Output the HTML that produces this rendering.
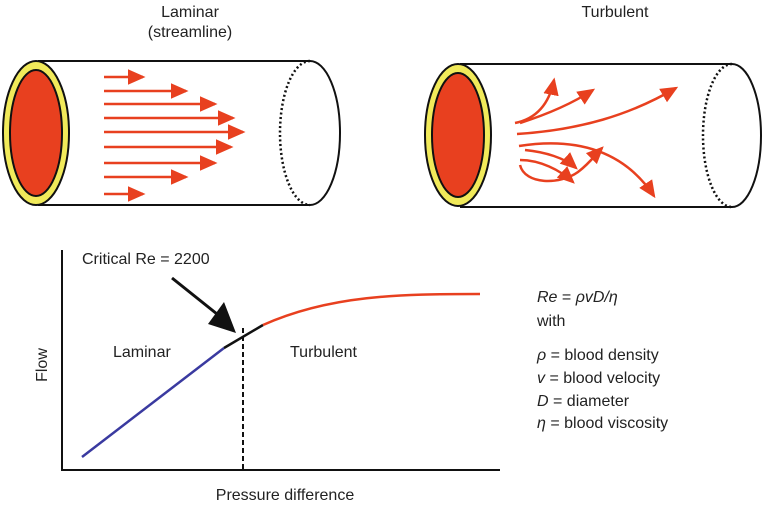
<!DOCTYPE html>
<html><head><meta charset="utf-8"><style>
body{margin:0;background:#fff}
svg{display:block}
text{font-family:"Liberation Sans",sans-serif;font-size:16px;fill:#222}
</style></head><body>
<svg width="768" height="507" viewBox="0 0 768 507">
<defs>
<marker id="ah" markerWidth="7" markerHeight="7" refX="6" refY="3.5" orient="auto" markerUnits="strokeWidth"><path d="M0,0.4 L7,3.5 L0,6.6 Z" fill="#e8401f"/></marker>
</defs>
<text x="190" y="17" text-anchor="middle">Laminar</text>
<text x="190" y="37" text-anchor="middle">(streamline)</text>
<text x="615" y="17" text-anchor="middle">Turbulent</text>

<!-- left tube -->
<g stroke="#111" stroke-width="2" fill="none">
<line x1="38" y1="61" x2="310" y2="61"/>
<line x1="38" y1="205" x2="310" y2="205"/>
<path d="M310,61 A30,72 0 0 1 310,205"/>
<path d="M310,61 A30,72 0 0 0 310,205" stroke-dasharray="2,2.5" stroke-width="2.5"/>
</g>
<ellipse cx="36" cy="133" rx="33" ry="72" fill="#f1ea5a" stroke="#111" stroke-width="2"/>
<ellipse cx="36" cy="133" rx="26" ry="63" fill="#e8401f" stroke="#111" stroke-width="2"/>
<g stroke="#e8401f" stroke-width="2.5" marker-end="url(#ah)">
<line x1="104" y1="77" x2="143" y2="77"/>
<line x1="104" y1="91" x2="186" y2="91"/>
<line x1="104" y1="104" x2="215" y2="104"/>
<line x1="104" y1="118" x2="233" y2="118"/>
<line x1="104" y1="132" x2="243" y2="132"/>
<line x1="104" y1="147" x2="231" y2="147"/>
<line x1="104" y1="163" x2="215" y2="163"/>
<line x1="104" y1="177" x2="186" y2="177"/>
<line x1="104" y1="194" x2="143" y2="194"/>
</g>

<!-- right tube -->
<g stroke="#111" stroke-width="2" fill="none">
<line x1="460" y1="64" x2="732" y2="64"/>
<line x1="460" y1="207" x2="732" y2="207"/>
<path d="M732,64 A29,71.5 0 0 1 732,207"/>
<path d="M732,64 A29,71.5 0 0 0 732,207" stroke-dasharray="2,2.5" stroke-width="2.5"/>
</g>
<ellipse cx="458" cy="135" rx="33" ry="71" fill="#f1ea5a" stroke="#111" stroke-width="2"/>
<ellipse cx="458" cy="135" rx="26" ry="62" fill="#e8401f" stroke="#111" stroke-width="2"/>
<g stroke="#e8401f" stroke-width="2.5" fill="none" marker-end="url(#ah)">
<path d="M515,123 C540,118 550,100 554,80"/>
<path d="M520,123 C545,115 570,105 593,90"/>
<path d="M517,134 C580,130 630,115 676,88"/>
<path d="M519,146 C590,135 630,160 654,196"/>
<path d="M525,150 C545,152 565,158 576,168"/>
<path d="M520,160 C540,160 560,170 573,182"/>
<path d="M520,165 C525,185 560,185 578,172 C590,163 595,155 602,148"/>
</g>

<!-- graph -->
<g stroke="#111" stroke-width="2" fill="none">
<polyline points="62,250 62,470 500,470"/>
<line x1="243" y1="328" x2="243" y2="470" stroke-dasharray="5,3"/>
<line x1="172" y1="278" x2="222" y2="318" stroke-width="3"/>
</g>
<path d="M236,333 L208,324 L224,302 Z" fill="#111"/>
<line x1="82" y1="457" x2="224" y2="348" stroke="#3a3aa0" stroke-width="2.5"/>
<line x1="224" y1="348" x2="263" y2="325" stroke="#111" stroke-width="2.5"/>
<path d="M263,325 C330,295 400,294 480,294" stroke="#e8401f" stroke-width="2.5" fill="none"/>
<text x="82" y="264">Critical Re = 2200</text>
<text x="113" y="357">Laminar</text>
<text x="290" y="357">Turbulent</text>
<text x="285" y="500" text-anchor="middle">Pressure difference</text>
<text x="47" y="365" text-anchor="middle" transform="rotate(-90 47 365)">Flow</text>

<text x="537" y="302"><tspan font-style="italic">Re</tspan> = <tspan font-style="italic">ρvD/η</tspan></text>
<text x="537" y="326">with</text>
<text x="537" y="360"><tspan font-style="italic">ρ</tspan> =  blood density</text>
<text x="537" y="383"><tspan font-style="italic">v</tspan> = blood velocity</text>
<text x="537" y="406"><tspan font-style="italic">D</tspan> = diameter</text>
<text x="537" y="428"><tspan font-style="italic">η</tspan> = blood viscosity</text>
</svg>
</body></html>
